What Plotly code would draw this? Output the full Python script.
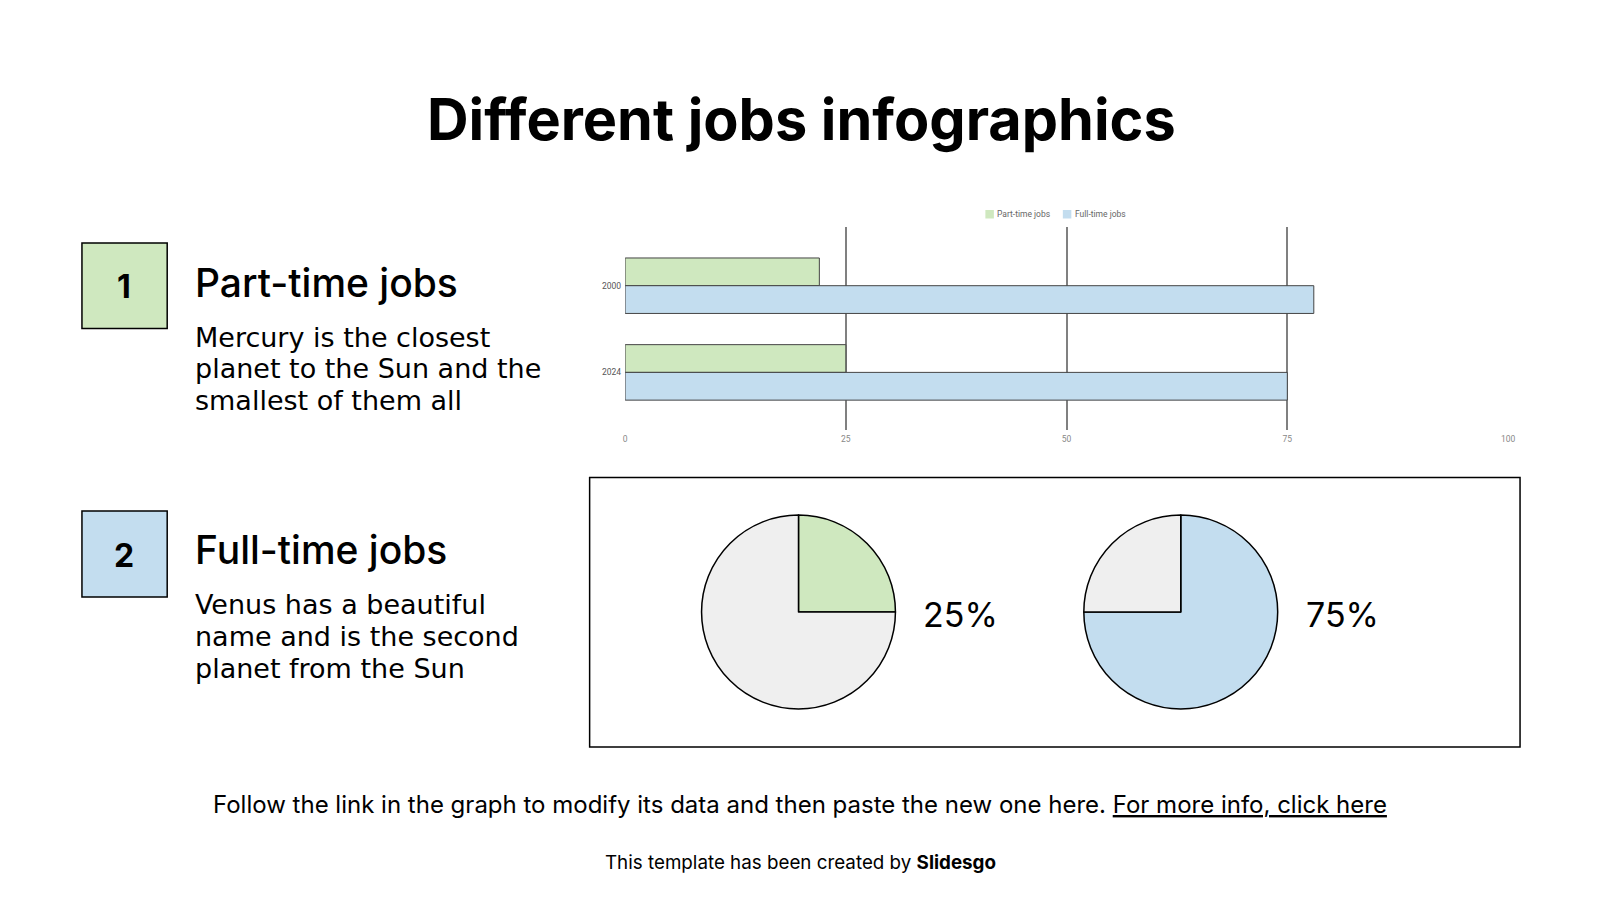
import plotly.graph_objects as go

# bar chart data
years = ['2000', '2024']
part_time = [22, 25]
full_time = [78, 75]
series_names = ['Part-time jobs', 'Full-time jobs']

# pie chart data
pie_part = [25, 75]
pie_full = [75, 25]
pie_labels = ['25%', '75%']

GREEN = '#cfe8bf'
BLUE = '#c3ddef'
GREY = '#efefef'
HEAD = 'Inter'
BODY = 'DejaVu Sans'

W, H = 1600, 900
PAPER_W = 1592  # width the page actually ends up drawing the paper at


def px(x):
    return x / PAPER_W


def py(y):
    return 1 - y / H


def note(fig, x, y, text, size, xanchor='center', family=HEAD, color='black', weight=None):
    font = dict(family=family, size=size, color=color)
    if weight:
        font['weight'] = weight
    fig.add_annotation(x=px(x), y=py(y), xref='paper', yref='paper', showarrow=False,
                       xanchor=xanchor, yanchor='middle', text=text, font=font)


fig = go.Figure()

fig.add_trace(go.Bar(
    y=years, x=part_time, orientation='h', name=series_names[0],
    marker=dict(color=GREEN, line=dict(color='#444444', width=1)),
))
fig.add_trace(go.Bar(
    y=years, x=full_time, orientation='h', name=series_names[1],
    marker=dict(color=BLUE, line=dict(color='#444444', width=1)),
))

fig.add_trace(go.Pie(
    values=pie_part, sort=False, direction='clockwise', textinfo='none',
    marker=dict(colors=[GREEN, GREY], line=dict(color='black', width=1.5)),
    domain=dict(x=[px(700), px(894)], y=[py(709), py(515)]),
    showlegend=False, hoverinfo='skip',
))
fig.add_trace(go.Pie(
    values=pie_full, sort=False, direction='clockwise', textinfo='none',
    marker=dict(colors=[BLUE, GREY], line=dict(color='black', width=1.5)),
    domain=dict(x=[px(1082.5), px(1276.5)], y=[py(709), py(515)]),
    showlegend=False, hoverinfo='skip',
))

fig.update_layout(
    width=W, height=H, autosize=False,
    margin=dict(l=0, r=0, t=0, b=0),
    paper_bgcolor='white', plot_bgcolor='white',
    barmode='group', bargap=0.36, bargroupgap=0,
    showlegend=False,
    xaxis=dict(domain=[px(623.5), px(1507)], range=[0, 100], tickvals=[0, 25, 50, 75, 100],
               showgrid=True, gridcolor='#808080', gridwidth=1.5, zeroline=False,
               showline=False, tickfont=dict(family='Roboto', size=8.5, color='#888888'),
               ticks='', ticklabelstandoff=3, fixedrange=True),
    yaxis=dict(domain=[py(429.6), py(226.5)], range=[1.66, -0.683],
               showgrid=False, zeroline=False, showline=False, ticks='',
               ticklabelstandoff=3,
               tickfont=dict(family='Roboto', size=8.5, color='#555555'), fixedrange=True),
)

# legend of the bar chart
for x0, col, name, tx in [(984, GREEN, series_names[0], 994), (1061.5, BLUE, series_names[1], 1071.5)]:
    fig.add_shape(type='rect', xref='paper', yref='paper',
                  x0=px(x0), x1=px(x0 + 8.5), y0=py(218.5), y1=py(210),
                  fillcolor=col, line=dict(width=0))
    note(fig, tx, 214.3, name, 8.5, xanchor='left', family='Roboto', color='#666666')

# title
note(fig, 800, 119, '<b>Different jobs infographics</b>', 57.6)

# numbered squares
for (y0, y1, col, num) in [(243, 328.6, GREEN, '1'), (511, 597, BLUE, '2')]:
    fig.add_shape(type='rect', xref='paper', yref='paper',
                  x0=px(80), x1=px(165.3), y0=py(y1), y1=py(y0),
                  fillcolor=col, line=dict(color='black', width=1.5))
    note(fig, 122.5, (y0 + y1) / 2 + 1, '<b>' + num + '</b>', 32)

# headings and text
blocks = [
    ('Part-time jobs', 282, ['Mercury is the closest', 'planet to the Sun and the', 'smallest of them all'], 337),
    ('Full-time jobs', 549, ['Venus has a beautiful', 'name and is the second', 'planet from the Sun'], 604),
]
for head, hy, lines, ly in blocks:
    note(fig, 191, hy, head, 39, xanchor='left', weight=500)
    for i, ln in enumerate(lines):
        note(fig, 191, ly + i * 32, ln, 27, xanchor='left', family=BODY)

# pie frame and labels
fig.add_shape(type='rect', xref='paper', yref='paper',
              x0=px(588), x1=px(1519), y0=py(747), y1=py(477.5),
              line=dict(color='black', width=1.5))
for xl, lab in zip([920, 1303], pie_labels):
    note(fig, xl, 614, lab, 34, xanchor='left')

# footer
note(fig, 799, 804,
     'Follow the link in the graph to modify its data and then paste the new one here. '
     '<span style="text-decoration:underline">For more info, click here</span>', 24)
note(fig, 799, 862, 'This template has been created by <b>Slidesgo</b>', 18.8)

fig.write_html('out.html', config={'displayModeBar': False, 'responsive': False},
               post_script="document.body.style.margin='0';document.body.style.overflow='hidden';")
